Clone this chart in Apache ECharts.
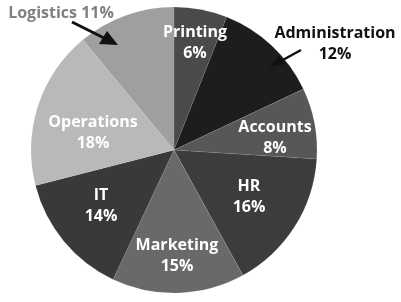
<!DOCTYPE html>
<html>
<head>
<meta charset="utf-8">
<script src="https://cdn.jsdelivr.net/npm/echarts@6/dist/echarts.min.js"></script>
<style>
  html, body { margin: 0; padding: 0; background: #fff; }
  #chart { width: 401px; height: 302px; }
</style>
</head>
<body>
<div id="chart"></div>
<script>
const departments = ["Printing", "Administration", "Accounts", "HR", "Marketing", "IT", "Operations", "Logistics"];
const shares = [6, 12, 8, 16, 15, 14, 18, 11];
const sliceColors = ["#4a4a4a", "#1d1d1d", "#575757", "#3c3c3c", "#696969", "#393939", "#b9b9b9", "#9f9f9f"];

// where each label sits (text centre)
const labelPos = [
  [195, 43], [335, 44], [275, 138], [249, 197],
  [177, 256], [101, 206], [93, 133], [61, 13]
];

const chart = echarts.init(document.getElementById("chart"));

const pieData = departments.map((name, i) => {
  const item = { name: name, value: shares[i], itemStyle: { color: sliceColors[i] } };
  if (name === "Administration") {
    item.label = { color: "#111", formatter: "{b}\n{c}%" };
  }
  if (name === "Logistics") {
    item.label = { color: "#808080", formatter: "{b} {c}%" };
  }
  return item;
});

chart.setOption({
  animation: false,
  series: [
    {
      type: "pie",
      center: [174, 150],
      radius: 143,
      startAngle: 90,
      data: pieData,
      itemStyle: {
        borderColor: "rgba(255,255,255,0.15)",
        borderWidth: 0.6
      },
      label: {
        show: true,
        position: "inside",
        formatter: "{b}\n{c}%",
        color: "#fff",
        fontFamily: "Open Sans",
        fontWeight: "bold",
        fontSize: 16,
        lineHeight: 21
      },
      labelLine: { show: false },
      labelLayout: function (params) {
        const p = labelPos[params.dataIndex];
        return { x: p[0], y: p[1], align: "center", verticalAlign: "middle" };
      }
    }
  ],
  graphic: [
    { type: "line", z: 100, shape: { x1: 72, y1: 22, x2: 106, y2: 39 }, style: { stroke: "#111", lineWidth: 3 } },
    { type: "polygon", z: 100, shape: { points: [[118, 45], [99, 44], [107, 31]] }, style: { fill: "#111" } },
    { type: "line", z: 100, shape: { x1: 301, y1: 50, x2: 281, y2: 61 }, style: { stroke: "#111", lineWidth: 2.5 } },
    { type: "polygon", z: 100, shape: { points: [[270, 67], [279, 55], [285, 64]] }, style: { fill: "#111" } }
  ]
});
</script>
</body>
</html>
